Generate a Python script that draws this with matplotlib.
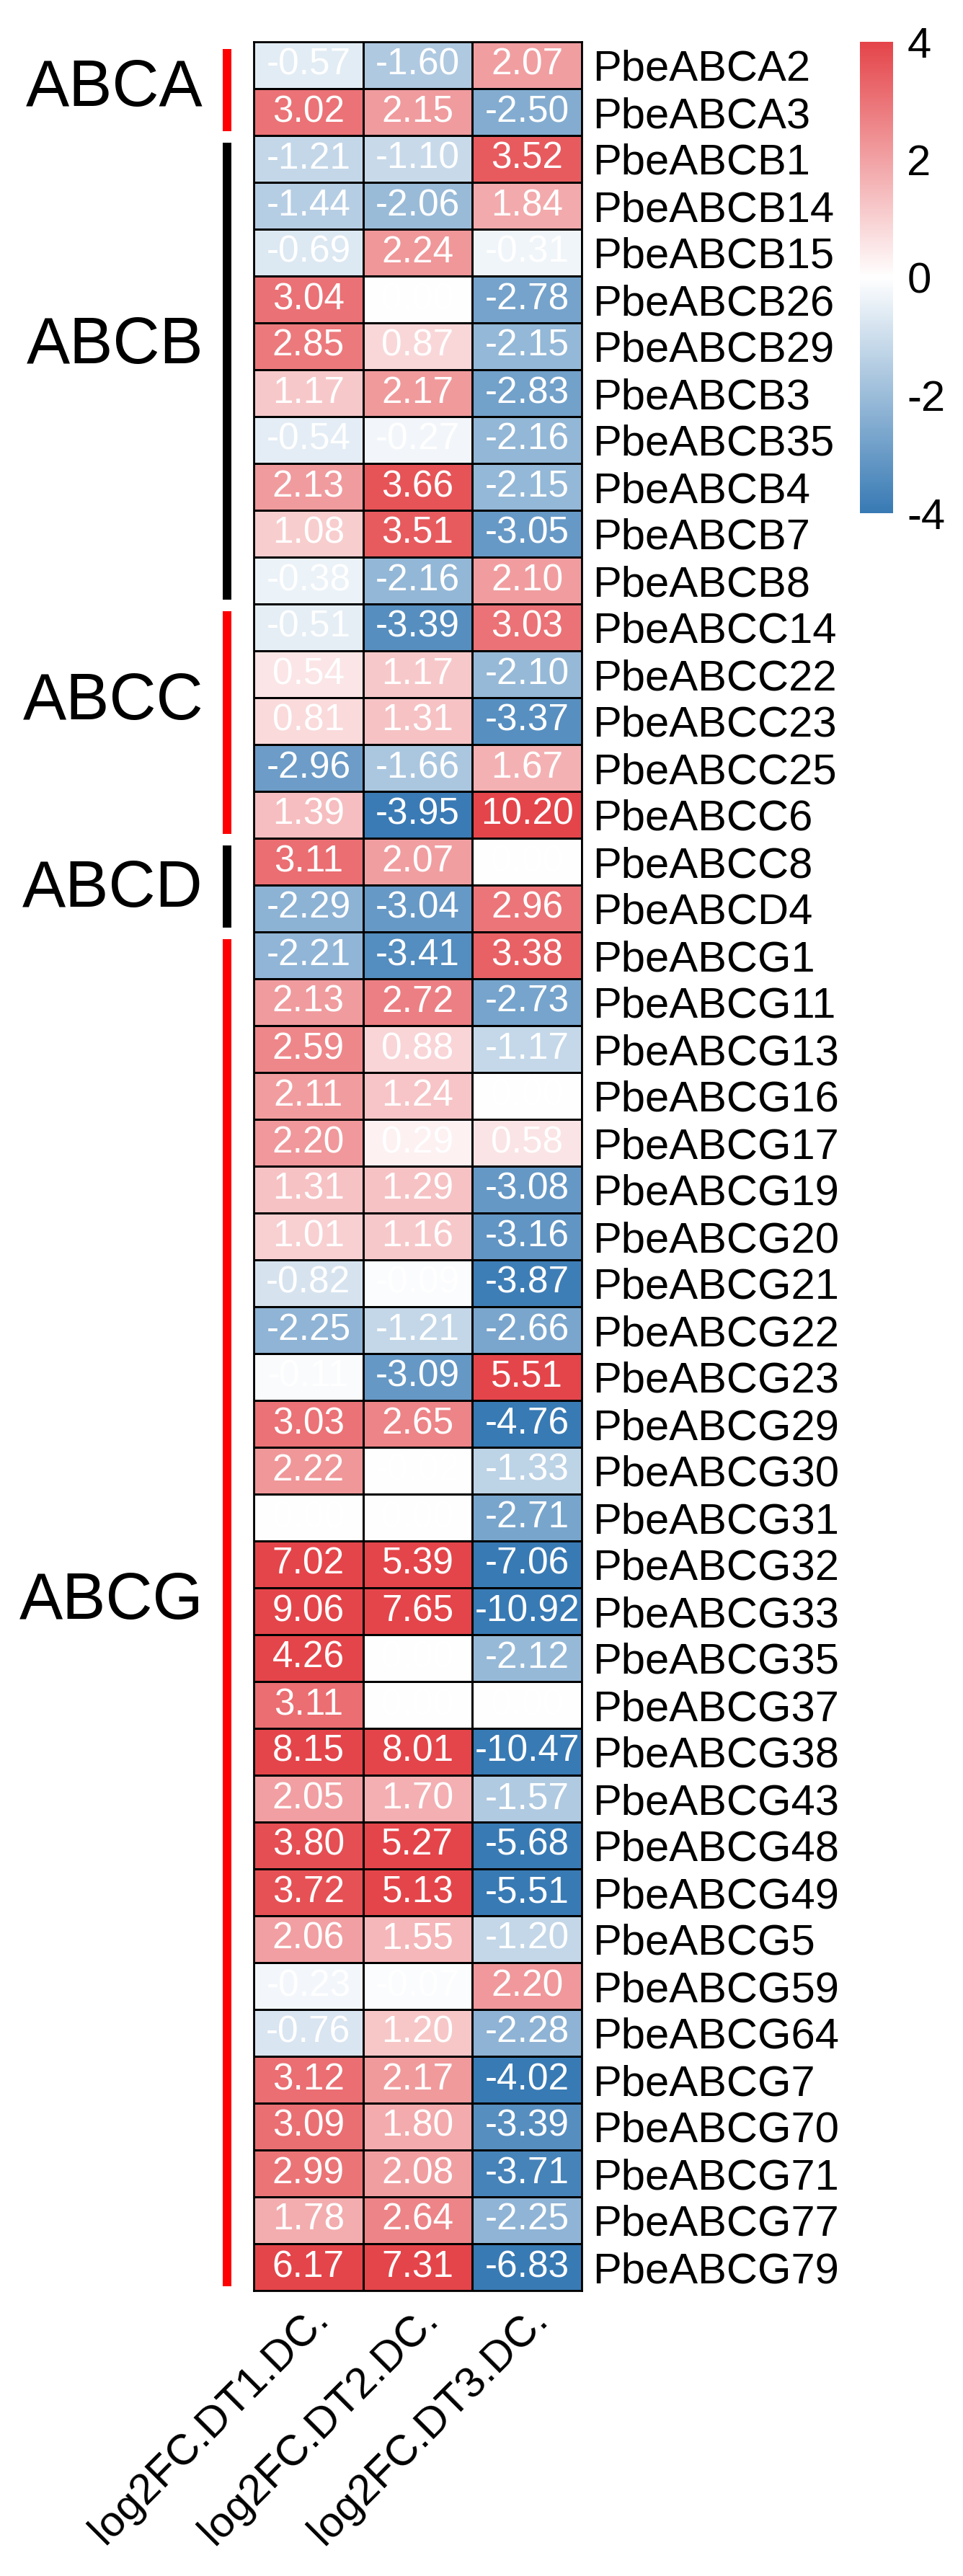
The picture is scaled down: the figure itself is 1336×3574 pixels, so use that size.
import numpy as np
import matplotlib
matplotlib.use("Agg")
import matplotlib.pyplot as plt
from matplotlib.colors import LinearSegmentedColormap, Normalize

plt.rcParams['font.family'] = ['Liberation Sans', 'DejaVu Sans']
plt.rcParams['axes.unicode_minus'] = False

# gene names (rows, top to bottom)
genes = ["PbeABCA2", "PbeABCA3",
         "PbeABCB1", "PbeABCB14", "PbeABCB15", "PbeABCB26", "PbeABCB29",
         "PbeABCB3", "PbeABCB35", "PbeABCB4", "PbeABCB7", "PbeABCB8",
         "PbeABCC14", "PbeABCC22", "PbeABCC23", "PbeABCC25", "PbeABCC6",
         "PbeABCC8", "PbeABCD4",
         "PbeABCG1", "PbeABCG11", "PbeABCG13", "PbeABCG16", "PbeABCG17",
         "PbeABCG19", "PbeABCG20", "PbeABCG21", "PbeABCG22", "PbeABCG23",
         "PbeABCG29", "PbeABCG30", "PbeABCG31", "PbeABCG32", "PbeABCG33",
         "PbeABCG35", "PbeABCG37", "PbeABCG38", "PbeABCG43", "PbeABCG48",
         "PbeABCG49", "PbeABCG5", "PbeABCG59", "PbeABCG64", "PbeABCG7",
         "PbeABCG70", "PbeABCG71", "PbeABCG77", "PbeABCG79"]

samples = ["log2FC.DT1.DC.", "log2FC.DT2.DC.", "log2FC.DT3.DC."]

dt1 = [-0.57, 3.02,
       -1.21, -1.44, -0.69, 3.04, 2.85, 1.17, -0.54, 2.13, 1.08, -0.38,
       -0.51, 0.54, 0.81, -2.96, 1.39,
       3.11, -2.29,
       -2.21, 2.13, 2.59, 2.11, 2.20, 1.31, 1.01, -0.82, -2.25, -0.11,
       3.03, 2.22, 0.00, 7.02, 9.06, 4.26, 3.11, 8.15, 2.05, 3.80,
       3.72, 2.06, -0.23, -0.76, 3.12, 3.09, 2.99, 1.78, 6.17]
dt2 = [-1.60, 2.15,
       -1.10, -2.06, 2.24, 0.00, 0.87, 2.17, -0.27, 3.66, 3.51, -2.16,
       -3.39, 1.17, 1.31, -1.66, -3.95,
       2.07, -3.04,
       -3.41, 2.72, 0.88, 1.24, 0.29, 1.29, 1.16, -0.09, -1.21, -3.09,
       2.65, -0.02, 0.00, 5.39, 7.65, 0.00, 0.00, 8.01, 1.70, 5.27,
       5.13, 1.55, -0.07, 1.20, 2.17, 1.80, 2.08, 2.64, 7.31]
dt3 = [2.07, -2.50,
       3.52, 1.84, -0.31, -2.78, -2.15, -2.83, -2.16, -2.15, -3.05, 2.10,
       3.03, -2.10, -3.37, 1.67, 10.20,
       0.00, 2.96,
       3.38, -2.73, -1.17, 0.00, 0.58, -3.08, -3.16, -3.87, -2.66, 5.51,
       -4.76, -1.33, -2.71, -7.06, -10.92, -2.12, 0.00, -10.47, -1.57, -5.68,
       -5.51, -1.20, 2.20, -2.28, -4.02, -3.39, -3.71, -2.25, -6.83]

# row groups
group_names = ["ABCA", "ABCB", "ABCC", "ABCD", "ABCG"]
group_sizes = [2, 10, 5, 2, 29]
group_colors = ["#FF0000", "black", "#FF0000", "black", "#FF0000"]
label_shift = [0.0, -0.5, -0.4, 0.1, -0.2]

values = np.column_stack([dt1, dt2, dt3])
n_rows, n_cols = values.shape

cmap = LinearSegmentedColormap.from_list("bwr2", ["#387AB4", "#FFFFFF", "#E4454A"])
norm = Normalize(vmin=-4, vmax=4, clip=True)

W, H = 1336, 3574
fig = plt.figure(figsize=(W / 100, H / 100), dpi=100)

# heatmap
hx0, hx1, hy0, hy1 = 352, 807, 58, 3178
ax = fig.add_axes([hx0 / W, 1 - hy1 / H, (hx1 - hx0) / W, (hy1 - hy0) / H])
ax.pcolormesh(values, cmap=cmap, norm=norm, edgecolors="black", linewidth=2)
ax.set_xlim(0, n_cols)
ax.set_ylim(n_rows, 0)
for i in range(n_rows):
    for j in range(n_cols):
        ax.text(j + 0.5, i + 0.5, f"{values[i, j]:.2f}", ha="center", va="center",
                color="white", fontsize=37)
for s in ax.spines.values():
    s.set_linewidth(2)

ax.yaxis.tick_right()
ax.set_yticks(np.arange(n_rows) + 0.5)
ax.set_yticklabels(genes, fontsize=43)
ax.set_xticks(np.arange(n_cols) + 0.5)
ax.set_xticklabels(samples, fontsize=43, rotation=45, ha="right",
                   rotation_mode="anchor")
ax.tick_params(axis="both", length=0)
ax.tick_params(axis="y", pad=11)
ax.tick_params(axis="x", pad=8)

# group bars and labels on the left
axg = fig.add_axes([0, 1 - hy1 / H, hx0 / W, (hy1 - hy0) / H])
axg.set_xlim(0, hx0)
axg.set_ylim(n_rows, 0)
axg.axis("off")
start = 0
for name, size, col, sh in zip(group_names, group_sizes, group_colors, label_shift):
    end = start + size
    axg.vlines(315, start + 0.15, end - 0.1, color=col, linewidth=8.6)
    axg.text(282, (start + end) / 2 + sh, name, ha="right", va="center",
             fontsize=65)
    start = end

# colour legend
cax = fig.add_axes([1193 / W, 1 - 712 / H, 46 / W, (712 - 58) / H])
sm = plt.cm.ScalarMappable(cmap=cmap, norm=norm)
cb = fig.colorbar(sm, cax=cax, ticks=[-4, -2, 0, 2, 4])
cb.outline.set_visible(False)
cb.ax.tick_params(length=0, labelsize=43, pad=14)

fig.savefig("out.png", dpi=100)
